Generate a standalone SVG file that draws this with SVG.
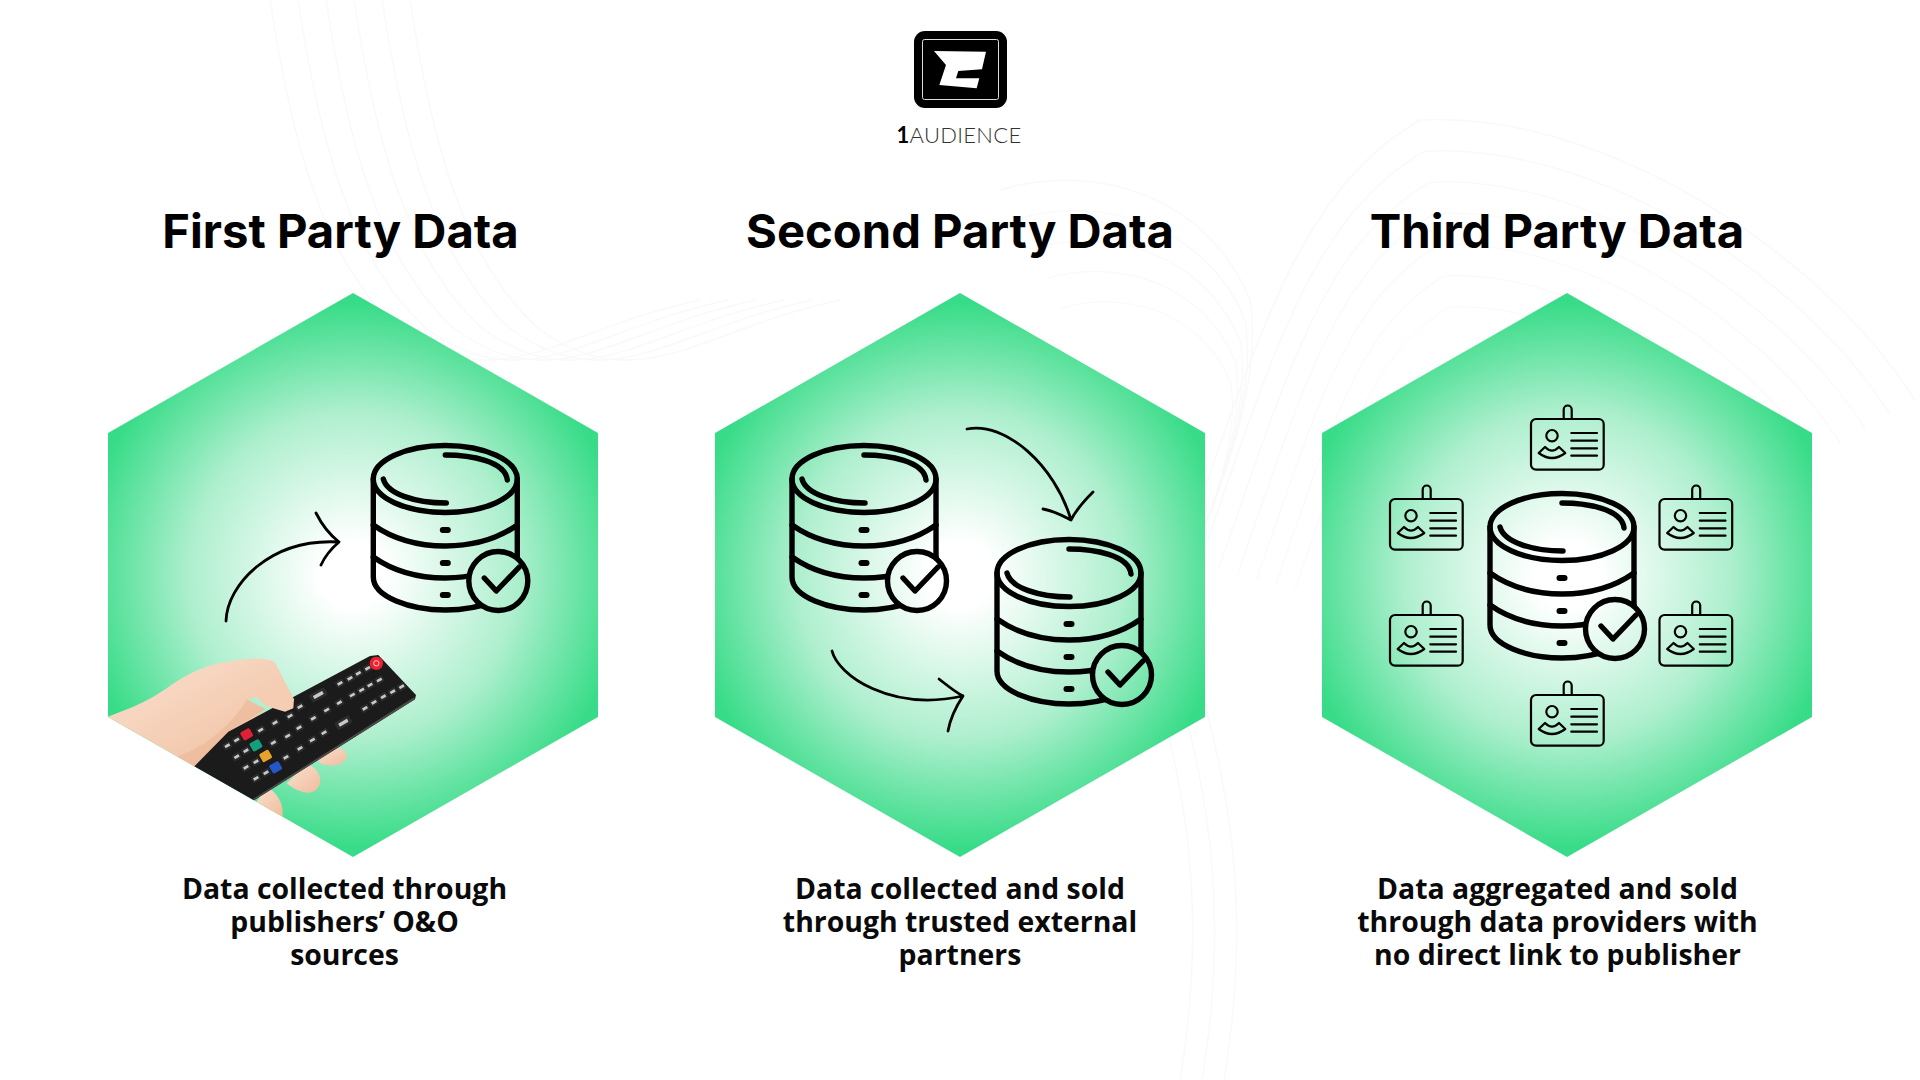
<svg xmlns="http://www.w3.org/2000/svg" width="1920" height="1080" viewBox="0 0 1920 1080">
<style>
.title{font-family:"Inter","Liberation Sans",sans-serif;font-weight:700;font-size:47.2px;text-anchor:middle;fill:#000}
.body{font-family:"Open Sans","Liberation Sans",sans-serif;font-weight:700;font-size:28.4px;text-anchor:middle;fill:#0a0a0a}
.ln{fill:none;stroke:#000;stroke-width:5.4;stroke-linecap:round;stroke-linejoin:round}
.bd{fill:none;stroke:#000;stroke-width:2.2;stroke-linecap:round;stroke-linejoin:round}
.ar{fill:none;stroke:#000;stroke-width:2.8;stroke-linecap:round;stroke-linejoin:round}
.bg{fill:none;stroke:#f9f9f9;stroke-width:1.5}
.hex{fill:url(#hg)}
.k{fill:#2c2c2c}
.s{fill:#c8c8c8}
</style>
<defs>
<radialGradient id="hg" cx="0" cy="0" r="272" gradientUnits="userSpaceOnUse">
<stop offset="0.12" stop-color="#fff"/><stop offset="0.6" stop-color="#aeefce"/><stop offset="1" stop-color="#38dc88"/>
</radialGradient>
<linearGradient id="skin" x1="0" y1="0" x2="1" y2="1"><stop offset="0" stop-color="#fbe2d2"/><stop offset="1" stop-color="#efbd9c"/></linearGradient>
<polygon id="hexshape" points="0,-282 245,-142 245,142 0,282 -245,142 -245,-142"/>
<clipPath id="hc1"><polygon points="353,293 598,433 598,717 353,857 108,717 108,433"/></clipPath>
<mask id="dbm" maskUnits="userSpaceOnUse" x="-90" y="-50" width="190" height="200">
<rect x="-90" y="-50" width="190" height="200" fill="#fff"/><circle cx="53" cy="102" r="29.5" fill="#000"/>
</mask>
<g id="db">
<g class="ln" mask="url(#dbm)">
<ellipse cx="0" cy="0" rx="72" ry="33.5"/>
<path d="M-72,0V98C-72,118 -35,131 0,131C35,131 72,118 72,98V0"/>
<path d="M-72,46C-55,58 -30,67 0,67C30,67 55,58 72,46"/>
<path d="M-72,78C-55,90 -30,99 0,99C30,99 55,90 72,78"/>
<path d="M0,-24C25,-24 60,-18 62,1"/>
<path d="M-62,0C-58,15 -30,24 1,24"/>
</g>
<rect x="-5.5" y="48" width="11" height="6" rx="3"/>
<rect x="-5.5" y="81" width="11" height="6" rx="3"/>
<rect x="-5.5" y="113" width="11" height="6" rx="3"/>
<circle class="ln" cx="53" cy="102" r="29.5"/>
<path class="ln" d="M39,99L51,112L74,88"/>
</g>
<g id="badge">
<rect class="bd" x="0" y="0" width="72.7" height="50.7" rx="5"/>
<path class="bd" d="M32.7,0V-9.5a4,4 0 0 1 8,0V0"/>
<circle class="bd" cx="21" cy="16.7" r="5.7"/>
<path class="bd" d="M7.7,34L14,28Q21,35 28,28L34.3,34Q21,44 7.7,34Z"/>
<path class="bd" d="M40.3,14H66M40.3,21.7H66M40.3,29.3H66M40.3,36.7H66"/>
</g>
<g id="b"><rect class="k" x="-13" y="-10" width="26" height="20" rx="3"/><rect class="s" x="-8" y="-4" width="16" height="8" rx="1"/></g>
<path id="bgA" d="M1180,560C1260,330 1300,190 1420,120C1600,110 1820,250 1915,400"/>
<path id="bgB" d="M1000,190C1100,160 1210,200 1250,300C1260,360 1240,450 1190,560"/>
<path id="bgC" d="M270,0C290,130 320,260 400,330C500,400 560,330 700,300"/>
<path id="bgD" d="M1180,1080C1210,900 1180,780 1160,700"/>
</defs>

<g id="background">
<rect width="1920" height="1080" fill="#fff"/>
<use class="bg" href="#bgA"/>
<use class="bg" href="#bgA" transform="translate(1500,640) scale(.94) translate(-1500,-640)"/>
<use class="bg" href="#bgA" transform="translate(1500,640) scale(.88) translate(-1500,-640)"/>
<use class="bg" href="#bgA" transform="translate(1500,640) scale(.82) translate(-1500,-640)"/>
<use class="bg" href="#bgA" transform="translate(1500,640) scale(.76) translate(-1500,-640)"/>
<use class="bg" href="#bgA" transform="translate(1500,640) scale(.70) translate(-1500,-640)"/>
<use class="bg" href="#bgA" transform="translate(1500,640) scale(.64) translate(-1500,-640)"/>
<use class="bg" href="#bgB"/>
<use class="bg" href="#bgB" transform="translate(1190,560) scale(.92) translate(-1190,-560)"/>
<use class="bg" href="#bgB" transform="translate(1190,560) scale(.84) translate(-1190,-560)"/>
<use class="bg" href="#bgB" transform="translate(1190,560) scale(.76) translate(-1190,-560)"/>
<use class="bg" href="#bgB" transform="translate(1190,560) scale(.68) translate(-1190,-560)"/>
<use class="bg" href="#bgC"/>
<use class="bg" href="#bgC" transform="translate(28,0)"/>
<use class="bg" href="#bgC" transform="translate(56,0)"/>
<use class="bg" href="#bgC" transform="translate(84,0)"/>
<use class="bg" href="#bgC" transform="translate(112,0)"/>
<use class="bg" href="#bgC" transform="translate(140,0)"/>
<use class="bg" href="#bgD"/>
<use class="bg" href="#bgD" transform="translate(22,0)"/>
<use class="bg" href="#bgD" transform="translate(44,0)"/>
</g>

<g id="logo">
<rect x="914" y="31" width="93" height="77" rx="11" fill="#000"/>
<rect x="922.5" y="39.5" width="76" height="60" rx="2" fill="none" stroke="#ddd" stroke-width="1"/>
<path fill="#fff" transform="translate(860,10) scale(.3333)" d="M222,123L378,125L366,178L295,183L288,205L358,205L350,235L238,225L258,165Z"/>
<text x="959" y="143" font-family="Lato,'Liberation Sans',sans-serif" font-size="22" font-weight="300" letter-spacing="0.3" text-anchor="middle" fill="#333"><tspan font-weight="700" fill="#000">1</tspan>AUDIENCE</text>
</g>

<text class="title" x="340.5" y="247.5">First Party Data</text>
<text class="title" x="960" y="247.5">Second Party Data</text>
<text class="title" x="1557" y="247.5">Third Party Data</text>

<g id="node-first">
<use class="hex" href="#hexshape" transform="translate(353,575)"/>
<use href="#db" transform="translate(445.3,479)"/>
<g clip-path="url(#hc1)">
<g transform="translate(100,640) scale(.33333)" id="remote-hand">
<path fill="url(#skin)" d="M640,320C690,330 730,310 740,345C738,372 705,385 660,370Z"/>
<path fill="url(#skin)" d="M620,370C650,385 665,405 660,430C650,465 610,470 560,430Z"/>
<path fill="url(#skin)" d="M500,440C535,460 550,490 548,530L460,500Z"/>
<path fill="url(#skin)" d="M0,240C60,215 130,195 200,145C260,100 320,72 400,62C450,55 500,50 525,68C550,110 560,145 582,178L580,205L555,215L520,205L495,195L470,172L440,178L495,206L400,300L280,385L0,240Z"/>
<path fill="#eab493" opacity=".55" d="M440,178L497,208L385,275L282,380L230,350C320,320 400,250 440,178Z"/>
<path fill="#1b1b1b" d="M282,380L385,275L810,48L835,45L948,165L945,178L460,482Z"/>
<path fill="#4a4a4a" d="M460,476L942,172L945,178L460,482Z"/>
<g>
<use href="#b" transform="translate(382,317) rotate(-30)"/><use href="#b" transform="translate(410,300) rotate(-30)"/><use href="#b" transform="translate(410,350) rotate(-30)"/><use href="#b" transform="translate(438,332) rotate(-30)"/><use href="#b" transform="translate(438,382) rotate(-30)"/><use href="#b" transform="translate(468,365) rotate(-30)"/><use href="#b" transform="translate(468,415) rotate(-30)"/><use href="#b" transform="translate(498,398) rotate(-30)"/><use href="#b" transform="translate(482,270) rotate(-30)"/><use href="#b" transform="translate(525,248) rotate(-30)"/><use href="#b" transform="translate(563,288) rotate(-30)"/><use href="#b" transform="translate(520,308) rotate(-30)"/><use href="#b" transform="translate(597,263) rotate(-30)"/><use href="#b" transform="translate(558,352) rotate(-30)"/><use href="#b" transform="translate(600,325) rotate(-30)"/><use href="#b" transform="translate(640,235) rotate(-30)"/><use href="#b" transform="translate(637,300) rotate(-30)"/><use href="#b" transform="translate(672,278) rotate(-30)"/><use href="#b" transform="translate(570,228) rotate(-30)"/><use href="#b" transform="translate(600,200) rotate(-30)"/><use href="#b" transform="translate(680,210) rotate(-30)"/><use href="#b" transform="translate(718,188) rotate(-30)"/><use href="#b" transform="translate(730,248) rotate(-30) scale(1.9,1.3)"/><use href="#b" transform="translate(655,165) rotate(-30) scale(2,1.3)"/><use href="#b" transform="translate(720,130) rotate(-30)"/><use href="#b" transform="translate(750,115) rotate(-30)"/><use href="#b" transform="translate(775,100) rotate(-30)"/><use href="#b" transform="translate(803,85) rotate(-30)"/><use href="#b" transform="translate(757,165) rotate(-30)"/><use href="#b" transform="translate(785,150) rotate(-30)"/><use href="#b" transform="translate(810,135) rotate(-30)"/><use href="#b" transform="translate(838,120) rotate(-30)"/><use href="#b" transform="translate(795,205) rotate(-30)"/><use href="#b" transform="translate(822,187) rotate(-30)"/><use href="#b" transform="translate(850,170) rotate(-30)"/><use href="#b" transform="translate(878,155) rotate(-30)"/><use href="#b" transform="translate(905,140) rotate(-30)"/>
<rect x="-16" y="-14" width="32" height="28" rx="5" fill="#e02035" transform="translate(440,283) rotate(-30)"/>
<rect x="-16" y="-14" width="32" height="28" rx="5" fill="#12a17a" transform="translate(468,316) rotate(-30)"/>
<rect x="-16" y="-14" width="32" height="28" rx="5" fill="#e8a22c" transform="translate(497,348) rotate(-30)"/>
<rect x="-16" y="-14" width="32" height="28" rx="5" fill="#2657c8" transform="translate(527,382) rotate(-30)"/>
<circle cx="829" cy="70" r="20" fill="#ee2030"/><circle cx="829" cy="70" r="8" fill="none" stroke="#ffd0d0" stroke-width="3"/>
</g>
<path fill="#f5cdb2" d="M470,172L495,195L520,205L555,215L580,205L582,178L555,125L500,130Z"/>
</g>
</g>
<text class="body" x="344.5" y="899">Data collected through</text>
<text class="body" x="344.5" y="932">publishers’ O&amp;O</text>
<text class="body" x="344.5" y="965">sources</text>
</g>

<g id="node-second">
<use class="hex" href="#hexshape" transform="translate(960,575)"/>
<use href="#db" transform="translate(864,479)"/>
<use href="#db" transform="translate(1069,573)"/>
<text class="body" x="960" y="899">Data collected and sold</text>
<text class="body" x="960" y="932">through trusted external</text>
<text class="body" x="960" y="965">partners</text>
</g>

<g id="node-third">
<use class="hex" href="#hexshape" transform="translate(1567,575)"/>
<use href="#db" transform="translate(1562,527)"/>
<use href="#badge" transform="translate(1531,419)"/>
<use href="#badge" transform="translate(1390,499)"/>
<use href="#badge" transform="translate(1659.5,499)"/>
<use href="#badge" transform="translate(1390,615)"/>
<use href="#badge" transform="translate(1659.5,615)"/>
<use href="#badge" transform="translate(1531,695)"/>
<text class="body" x="1557.5" y="899">Data aggregated and sold</text>
<text class="body" x="1557.5" y="932">through data providers with</text>
<text class="body" x="1557.5" y="965">no direct link to publisher</text>
</g>

<g id="connectors">
<path class="ar" d="M226,621C227,585 270,538 339,542M316,513C322,525 330,535 339,542C332,548 325,556 321,565"/>
<path class="ar" d="M967,429C1005,421 1055,465 1071,520M1043,509C1055,511 1063,516 1071,520C1076,510 1085,500 1093,492"/>
<path class="ar" d="M832,651C838,675 890,712 963,696M939,679C948,686 955,692 963,696C955,708 950,720 948,731"/>
</g>
</svg>
